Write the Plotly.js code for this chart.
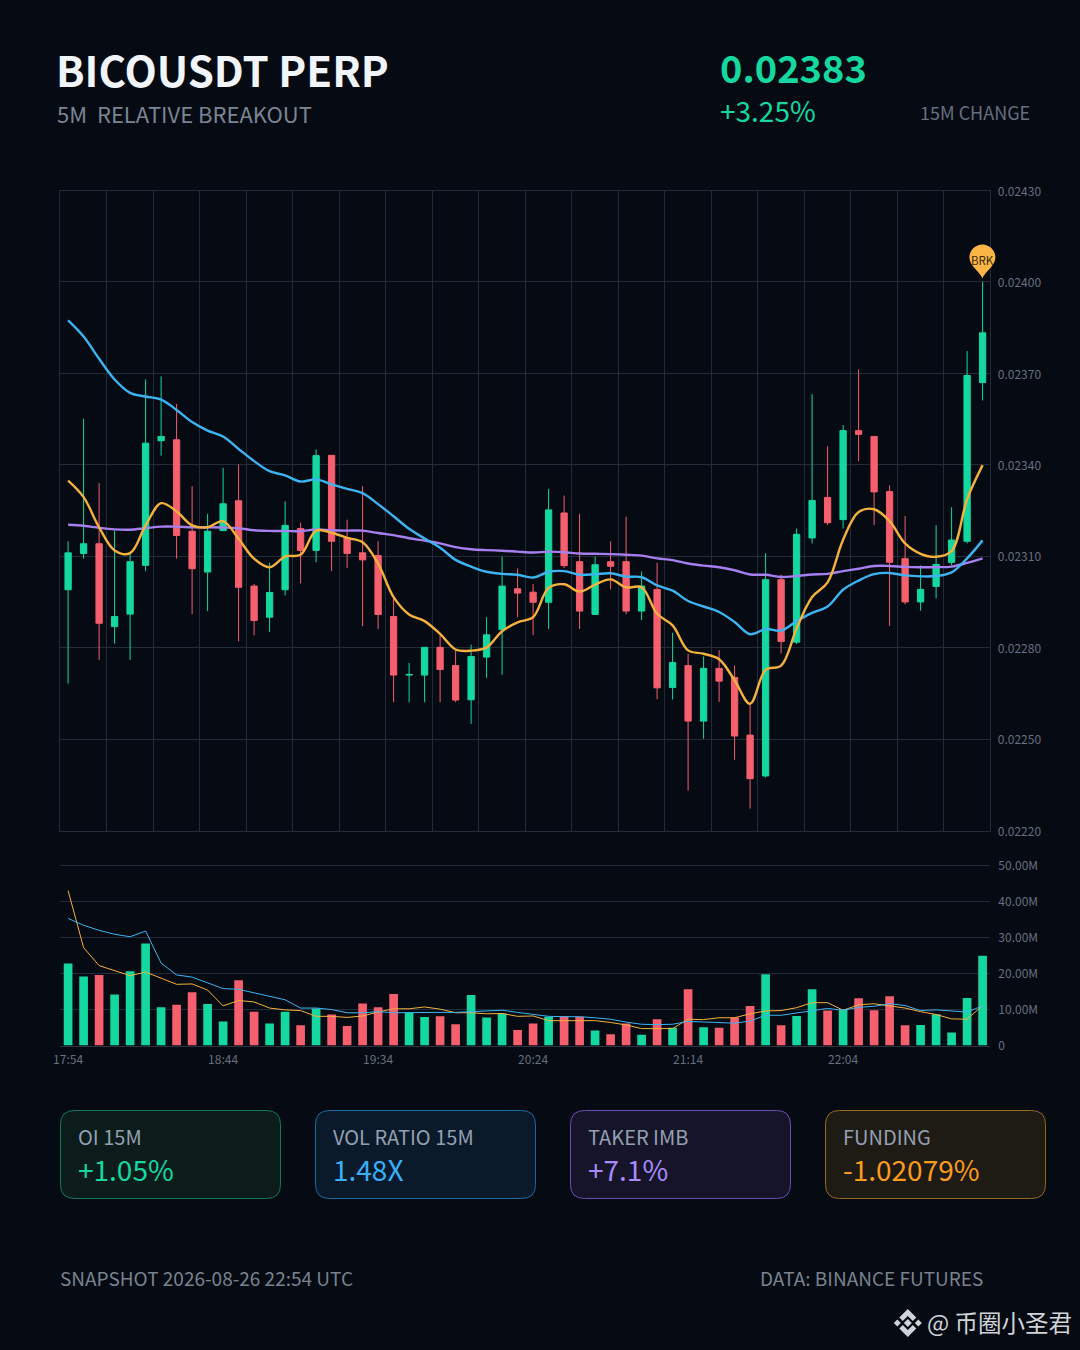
<!DOCTYPE html>
<html>
<head>
<meta charset="utf-8">
<script src="https://cdn.plot.ly/plotly-3.0.1.min.js"></script>
<style>html,body{margin:0;padding:0;background:#060a12}#chart{width:1080px;height:1350px}</style>
</head>
<body>
<div id="chart"></div>
<script>
const times = ['17:54','17:59','18:04','18:09','18:14','18:19','18:24','18:29','18:34','18:39','18:44','18:49','18:54','18:59','19:04','19:09','19:14','19:19','19:24','19:29','19:34','19:39','19:44','19:49','19:54','19:59','20:04','20:09','20:14','20:19','20:24','20:29','20:34','20:39','20:44','20:49','20:54','20:59','21:04','21:09','21:14','21:19','21:24','21:29','21:34','21:39','21:44','21:49','21:54','21:59','22:04','22:09','22:14','22:19','22:24','22:29','22:34','22:39','22:44','22:49'];
const openP = [.022990,.023109,.023141,.022869,.022910,.023070,.023479,.023482,.023182,.023048,.023184,.023282,.023002,.022900,.022990,.023191,.023119,.023431,.023160,.023111,.023102,.022902,.022710,.022710,.022801,.022741,.022629,.022769,.022859,.022993,.022982,.022949,.023242,.023082,.022909,.023082,.023082,.022920,.022991,.022669,.022741,.022559,.022732,.022702,.022513,.022379,.023023,.022818,.023160,.023293,.023220,.023512,.023493,.023312,.023092,.022950,.023001,.023080,.023149,.023670];
const closeP = [.023111,.023141,.022880,.022902,.023082,.023471,.023493,.023168,.023059,.023182,.023272,.022998,.022889,.022981,.023201,.023119,.023430,.023149,.023109,.023088,.022909,.022710,.022712,.022801,.022728,.022628,.022771,.022842,.023002,.022979,.022949,.023252,.023069,.022920,.023072,.023067,.022920,.023002,.022668,.022751,.022559,.022732,.022690,.022510,.022370,.023023,.022820,.023172,.023283,.023210,.023512,.023500,.023311,.023080,.022950,.022991,.023073,.023153,.023693,.023833];
const highP = [.023149,.023551,.023340,.023184,.023109,.023680,.023690,.023600,.023330,.023239,.023390,.023401,.023009,.023079,.023280,.023210,.023450,.023431,.023220,.023330,.023149,.022970,.022750,.022801,.022840,.022791,.022810,.022900,.023099,.023060,.023009,.023321,.023299,.023239,.023099,.023149,.023230,.023050,.023079,.022849,.022780,.022771,.022792,.022741,.022613,.023110,.023040,.023191,.023632,.023461,.023530,.023713,.023493,.023332,.023232,.023070,.023202,.023261,.023773,.024000];
const lowP = [.022682,.023092,.022760,.022813,.022760,.023051,.023430,.023092,.022910,.022920,.023182,.022821,.022840,.022851,.022971,.023011,.023080,.023051,.023061,.022870,.022861,.022621,.022621,.022621,.022621,.022621,.022550,.022701,.022711,.022900,.022841,.022861,.023061,.022861,.022909,.022991,.022910,.022890,.022631,.022630,.022331,.022501,.022622,.022432,.022272,.022374,.022781,.022812,.023142,.023202,.023191,.023412,.023202,.022871,.022942,.022921,.022962,.023070,.023142,.023611];
const maFast = [.023348,.023294,.023195,.023119,.023110,.023201,.023274,.023247,.023201,.023195,.023215,.023157,.023092,.023064,.023099,.023105,.023184,.023177,.023160,.023146,.023076,.022966,.022909,.022887,.022845,.022794,.022790,.022801,.022854,.022883,.022900,.022996,.023008,.022984,.023007,.023024,.022998,.022998,.022911,.022873,.022791,.022780,.022762,.022693,.022616,.022727,.022741,.022863,.022966,.023014,.023154,.023245,.023254,.023215,.023142,.023108,.023098,.023117,.023287,.023399];
const maMid = [.023874,.023821,.023748,.023680,.023636,.023624,.023614,.023580,.023540,.023512,.023493,.023452,.023412,.023379,.023365,.023345,.023352,.023336,.023321,.023307,.023271,.023231,.023190,.023158,.023128,.023088,.023066,.023049,.023042,.023039,.023030,.023049,.023051,.023039,.023041,.023044,.023033,.023031,.023004,.022987,.022953,.022935,.022917,.022884,.022844,.022861,.022856,.022887,.022914,.022935,.022990,.023020,.023041,.023045,.023037,.023034,.023035,.023047,.023093,.023152];
const maSlow = [.023203,.023200,.023193,.023188,.023187,.023192,.023197,.023197,.023195,.023195,.023194,.023192,.023185,.023183,.023183,.023182,.023188,.023185,.023184,.023184,.023176,.023169,.023159,.023151,.023142,.023130,.023123,.023120,.023118,.023115,.023112,.023115,.023113,.023109,.023108,.023107,.023105,.023102,.023093,.023087,.023076,.023069,.023064,.023054,.023040,.023039,.023032,.023035,.023040,.023042,.023051,.023059,.023068,.023068,.023065,.023064,.023064,.023066,.023078,.023093];
const volume = [22.8,19.2,19.6,14.2,20.6,28.3,10.6,11.3,14.8,11.5,6.7,18.1,9.4,6.1,9.4,5.6,10.3,8.6,5.4,11.7,10.6,14.3,9.1,7.9,8.1,5.9,14,7.8,8.9,4.3,6.1,8,8.1,8,4.2,3.1,6.1,3,7.3,4.9,15.6,5.1,4.9,7.8,11,19.8,5.6,8.2,15.6,9.7,10,13.1,9.8,13.7,5.6,5.7,8.7,3.6,13.2,24.9];
const volFast = [43,27.2,22.2,20.9,19.4,20.4,18.6,17,17.1,15.4,11,12.5,12.1,10.4,9.9,9.7,8.1,8.1,7.8,8.2,9.3,10.2,10.2,10.7,10.1,9.1,9.1,8.8,8.9,8.1,8.2,6.9,6.9,6.9,6.9,6.4,5.7,4.7,4.6,4.7,7.3,7.2,7.7,7.7,8.8,9.6,9.7,10.5,11.9,11.9,9.8,11.3,11.6,11.1,10.4,9.4,8.6,7.4,7.3,11.1];
const volSlow = [35.3,33.4,32,30.9,30.2,31.8,22.9,19.6,19,17.4,15.8,15.6,14.6,13.8,12.7,10.4,10.4,10,9.1,9.1,9.4,9.1,9.2,9.2,9.2,9.2,9.4,9.4,9.8,9.2,8.7,8.1,8,8,7.7,7.3,6.5,5.9,5.8,5.9,6.7,6.5,6.2,6.2,6.8,8.4,8.4,9,9.8,10.3,9.8,10.6,10.9,11.6,11.1,9.7,9.9,9.5,9.3,11];
const volTicks = [0,10,20,30,40,50];
const volTickText = ['0','10.00M','20.00M','30.00M','40.00M','50.00M'];
const timeTickIdx = [0,10,20,30,40,50];
const timeTickText = ['17:54','18:44','19:34','20:24','21:14','22:04'];
const cards = [
  {label:'OI 15M', value:'+1.05%', x:60, c:'#14d8a0', fill:'#0b1c1b', border:'#117a5c'},
  {label:'VOL RATIO 15M', value:'1.48X', x:315, c:'#38b0f8', fill:'#0a1a2a', border:'#1d6aa3'},
  {label:'TAKER IMB', value:'+7.1%', x:570, c:'#a78bfa', fill:'#151428', border:'#6a4fb5'},
  {label:'FUNDING', value:'-1.02079%', x:825, c:'#fb9c1c', fill:'#1e1a14', border:'#96691f'}
];

const GREEN='#14d8a0', RED='#f55f6e', BLUE='#3db4f2', ORANGE='#f5b13d', PURPLE='#a67ff0';
const GRID='#212b3a', TICK='#667080', FONT='"Noto Sans CJK SC","Noto Sans",sans-serif';
const W=1080,H=1350;
const px=x=>x/W, py=y=>1-y/H;
const idx=times.map((_,i)=>i);

const traces=[
 {type:'candlestick',x:idx,open:openP,high:highP,low:lowP,close:closeP,xaxis:'x',yaxis:'y',whiskerwidth:0,
  increasing:{line:{color:GREEN,width:1},fillcolor:GREEN},decreasing:{line:{color:RED,width:1},fillcolor:RED},hoverinfo:'skip'},
 {type:'scatter',mode:'lines',x:idx,y:maSlow,xaxis:'x',yaxis:'y',line:{color:PURPLE,width:2.4,shape:'spline',smoothing:1},hoverinfo:'skip'},
 {type:'scatter',mode:'lines',x:idx,y:maMid,xaxis:'x',yaxis:'y',line:{color:BLUE,width:2.4,shape:'spline',smoothing:1},hoverinfo:'skip'},
 {type:'scatter',mode:'lines',x:idx,y:maFast,xaxis:'x',yaxis:'y',line:{color:ORANGE,width:2.4,shape:'spline',smoothing:1},hoverinfo:'skip'},
 {type:'bar',x:idx,y:volume,xaxis:'x2',yaxis:'y2',marker:{color:volume.map((_,i)=>closeP[i]>=openP[i]?GREEN:RED)},hoverinfo:'skip'},
 {type:'scatter',mode:'lines',x:idx,y:volFast,xaxis:'x2',yaxis:'y2',line:{color:ORANGE,width:1},hoverinfo:'skip'},
 {type:'scatter',mode:'lines',x:idx,y:volSlow,xaxis:'x2',yaxis:'y2',line:{color:BLUE,width:1},hoverinfo:'skip'}
];

function note(text,x,y,size,color,opts){
  return Object.assign({text,x:px(x),y:py(y),xref:'paper',yref:'paper',xanchor:'left',yanchor:'middle',showarrow:false,
    font:{family:FONT,size,color,weight:(opts&&opts.weight)||400}},opts&&opts.extra||{});
}
function rr(x0,y0,x1,y1,r){
  const X=px,Y=py;
  return `M ${X(x0+r)} ${Y(y0)} L ${X(x1-r)} ${Y(y0)} Q ${X(x1)} ${Y(y0)} ${X(x1)} ${Y(y0+r)} L ${X(x1)} ${Y(y1-r)} Q ${X(x1)} ${Y(y1)} ${X(x1-r)} ${Y(y1)} L ${X(x0+r)} ${Y(y1)} Q ${X(x0)} ${Y(y1)} ${X(x0)} ${Y(y1-r)} L ${X(x0)} ${Y(y0+r)} Q ${X(x0)} ${Y(y0)} ${X(x0+r)} ${Y(y0)} Z`;
}
function poly(pts){return 'M '+pts.map(p=>`${px(p[0])} ${py(p[1])}`).join(' L ')+' Z';}

const annotations=[
 note('BICOUSDT PERP',54,68,42,'#f1f5f9',{weight:700}),
 note('5M\u00a0\u00a0RELATIVE BREAKOUT',55,113,22,'#7a8594'),
 note('0.02383',718,67,38,GREEN,{weight:700}),
 note('+3.25%',718,110,28,GREEN),
 note('15M CHANGE',1032,112,18,'#667080',{extra:{xanchor:'right'}}),
 note('SNAPSHOT 2026-08-26 22:54 UTC',58,1277,19,'#78838f'),
 note('DATA: BINANCE FUTURES',758,1277,19,'#78838f'),
 note('@ 币圈小圣君',925,1322,23.5,'#d0d3d8'),
 {text:'BRK',x:px(982.4),y:py(260),xref:'paper',yref:'paper',xanchor:'center',yanchor:'middle',showarrow:false,font:{family:FONT,size:11.5,color:'#3a2a10'}}
];
const shapes=[];
cards.forEach(c=>{
  shapes.push({type:'path',xref:'paper',yref:'paper',path:rr(c.x+0.5,1110.5,c.x+220.5,1198.5,14),fillcolor:c.fill,line:{color:c.border,width:1},layer:'below'});
  annotations.push(note(c.label,c.x+16,1136,20,'#94a0b2'));
  annotations.push(note(c.value,c.x+16,1169,28,c.c));
});
// BRK pin
shapes.push({type:'path',xref:'paper',yref:'paper',xsizemode:'pixel',ysizemode:'pixel',xanchor:px(982.4),yanchor:py(281),
  path:'M 0 2.6 C -2 9 -13 15 -13 23.6 C -13 30.8 -7 36.6 0 36.6 C 7 36.6 13 30.8 13 23.6 C 13 15 2 9 0 2.6 Z',fillcolor:'#fbb545',line:{width:0}});
// Binance-style logo
const LC='#d0d3d8';
const cx=907.8,cy=1323;
[
 [[cx,cy-4],[cx+4,cy],[cx,cy+4],[cx-4,cy]],
 [[cx-14,cy],[cx-10.5,cy-3.5],[cx-7,cy],[cx-10.5,cy+3.5]],
 [[cx+14,cy],[cx+10.5,cy-3.5],[cx+7,cy],[cx+10.5,cy+3.5]],
 [[cx,cy-14],[cx+8.5,cy-5.5],[cx+5,cy-2],[cx,cy-7],[cx-5,cy-2],[cx-8.5,cy-5.5]],
 [[cx,cy+14],[cx+8.5,cy+5.5],[cx+5,cy+2],[cx,cy+7],[cx-5,cy+2],[cx-8.5,cy+5.5]]
].forEach(p=>shapes.push({type:'path',xref:'paper',yref:'paper',path:poly(p),fillcolor:LC,line:{width:0}}));

const layout={
 width:W,height:H,autosize:false,paper_bgcolor:'#060a12',plot_bgcolor:'rgba(0,0,0,0)',
 margin:{l:0,r:0,t:0,b:0},showlegend:false,boxgap:0.42,bargap:0.44,dragmode:false,
 xaxis:{domain:[px(60.35),px(990.35)],anchor:'y',range:[-0.5,59.5],rangeslider:{visible:false},tick0:-0.5,dtick:3,showticklabels:false,ticks:'',
   showgrid:true,gridcolor:GRID,gridwidth:1,zeroline:false,showline:true,linecolor:GRID,mirror:true},
 yaxis:{domain:[py(830.5),py(190.5)],anchor:'x',side:'right',range:[0.0222,0.0243],tick0:0.0222,dtick:0.0003,tickformat:'.5f',
   showgrid:true,gridcolor:GRID,gridwidth:1,zeroline:false,showline:true,linecolor:GRID,mirror:true,ticks:'',ticklabelstandoff:4,ticklabelshift:1,
   tickfont:{family:FONT,size:12,color:TICK}},
 xaxis2:{domain:[px(60.35),px(990.35)],anchor:'y2',range:[-0.5,59.5],tickmode:'array',tickvals:timeTickIdx,ticktext:timeTickText,showgrid:false,zeroline:false,
   showline:true,linecolor:'#2a3340',ticks:'',tickfont:{family:FONT,size:12,color:TICK},ticklabelstandoff:3},
 yaxis2:{domain:[py(1045.5),py(863.7)],anchor:'x2',side:'right',range:[0,50.5],tickmode:'array',tickvals:volTicks,ticktext:volTickText,
   showgrid:true,gridcolor:GRID,gridwidth:1,zeroline:false,showline:false,ticks:'',ticklabelstandoff:7,tickfont:{family:FONT,size:12,color:TICK}},
 annotations,shapes
};
Plotly.newPlot('chart',traces,layout,{staticPlot:true,displayModeBar:false});
</script>
</body>
</html>
